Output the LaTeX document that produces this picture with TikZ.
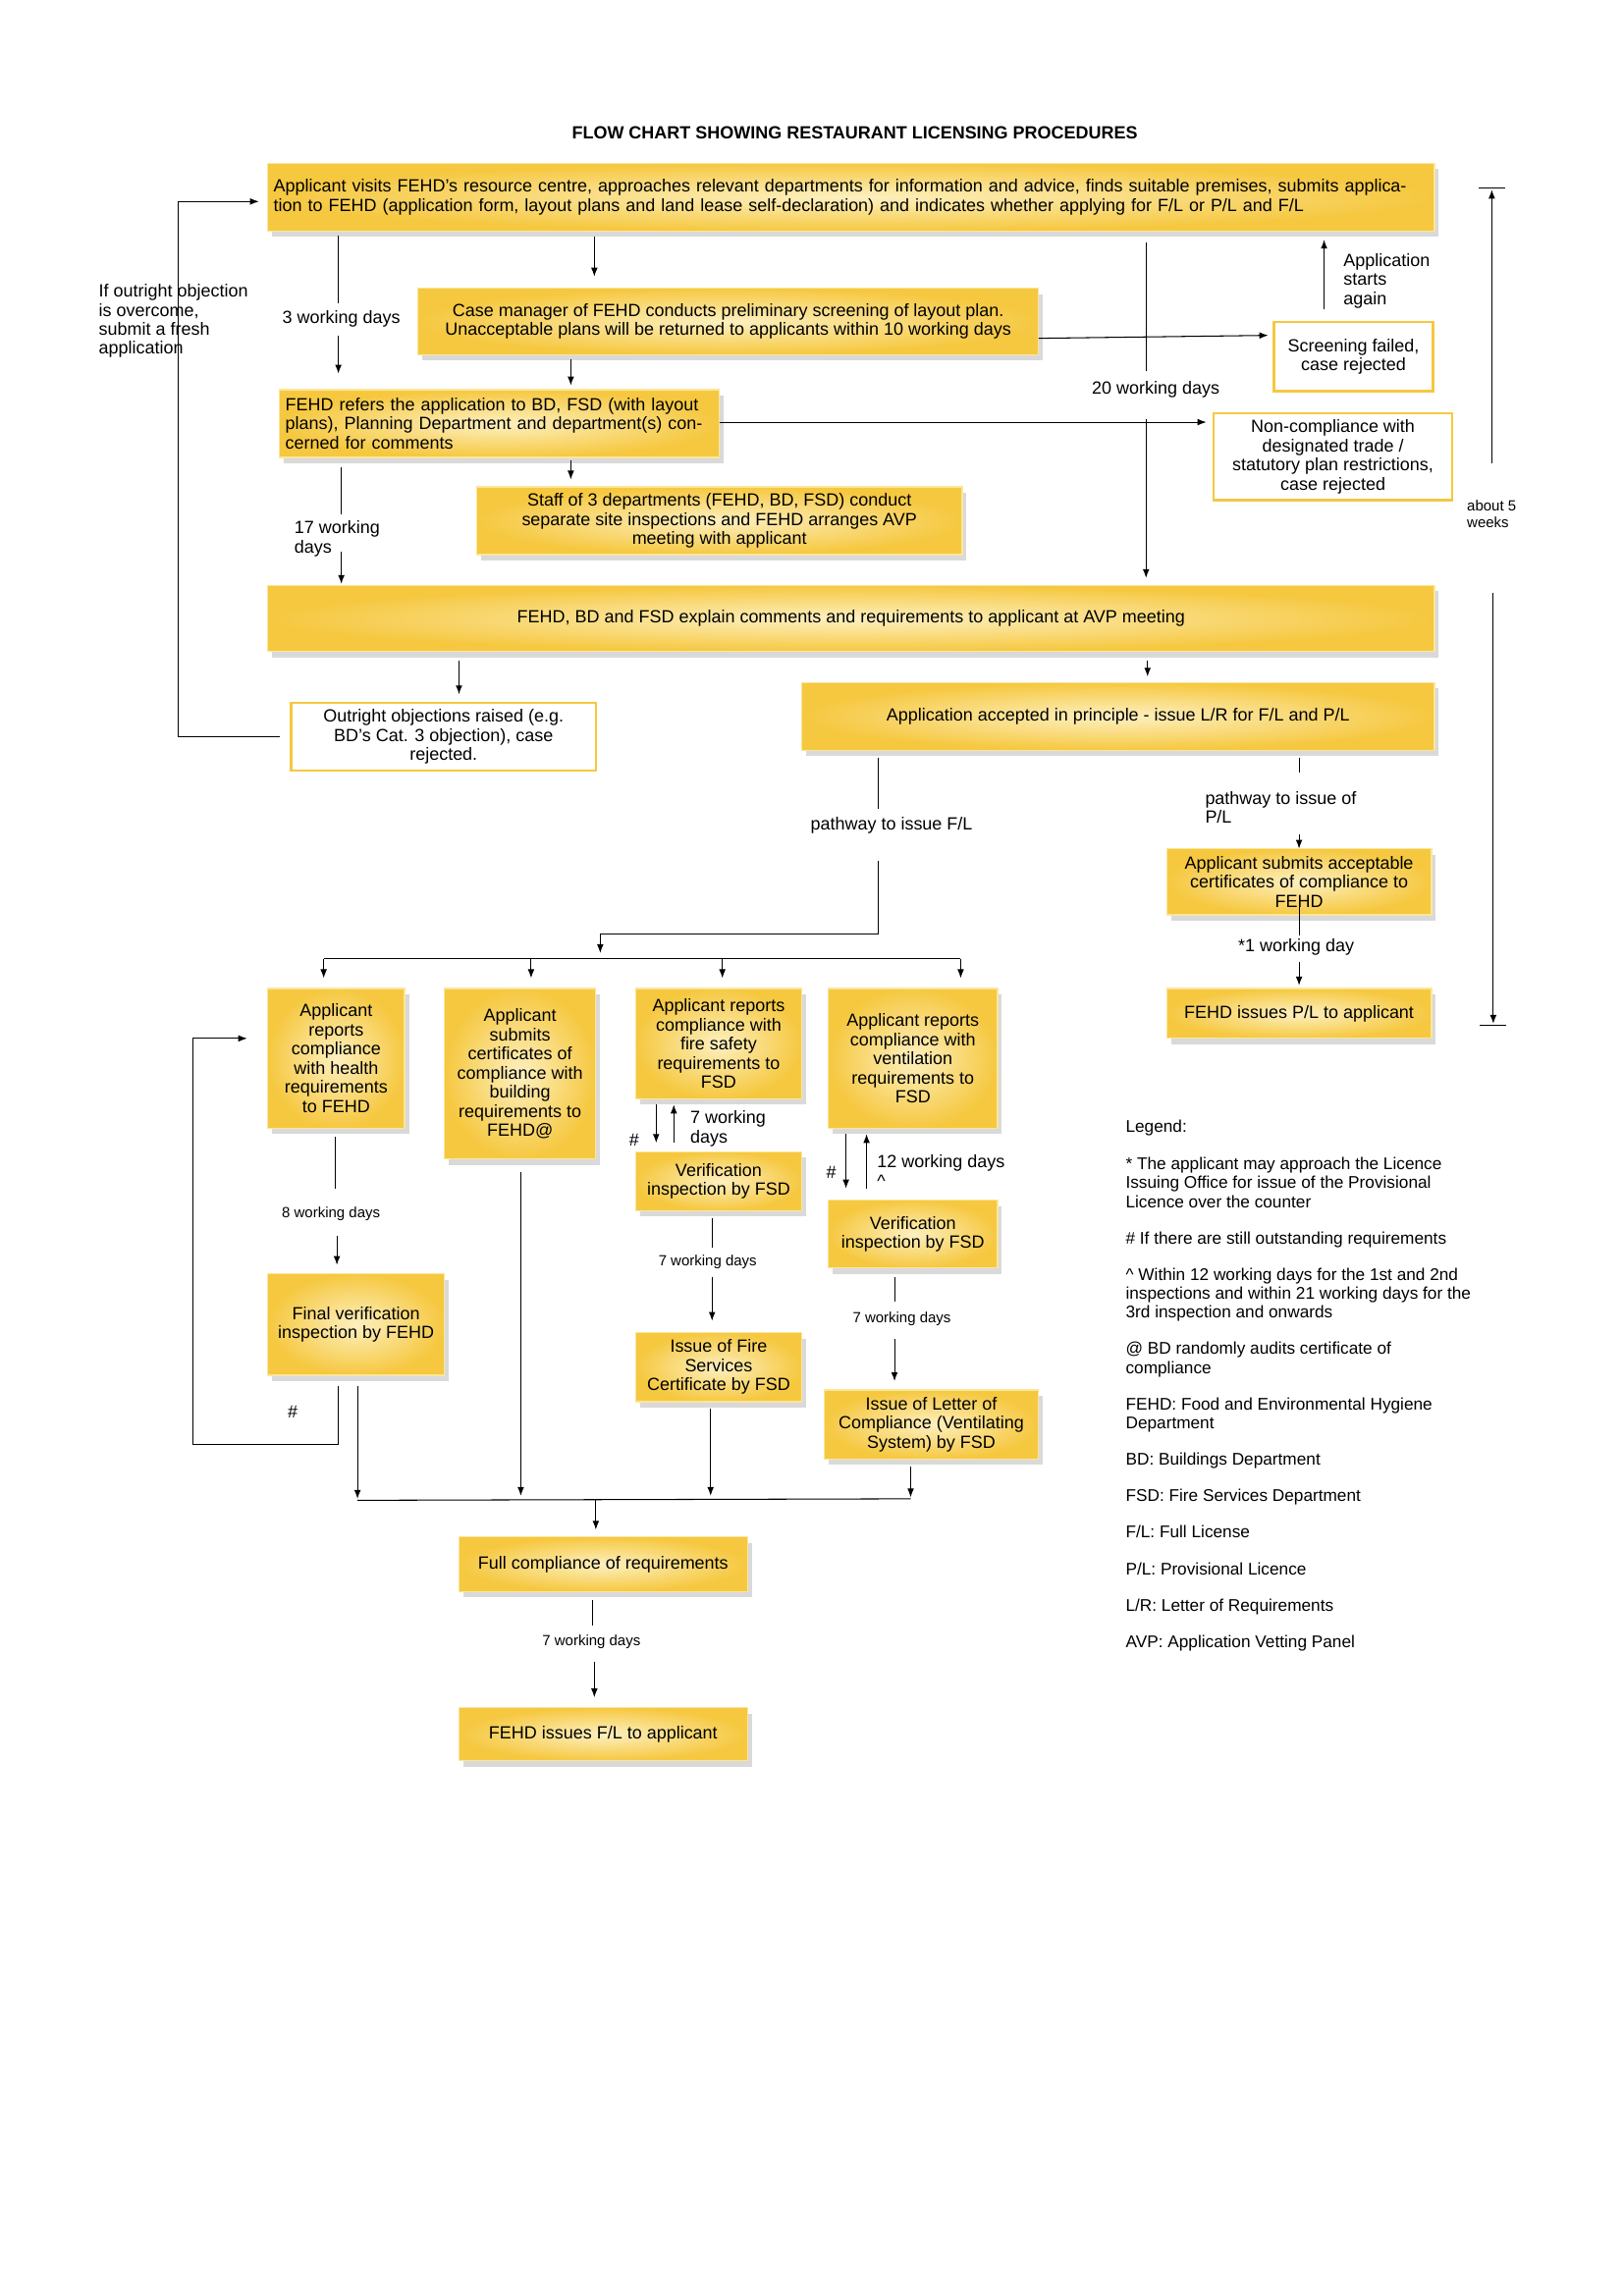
\documentclass[tikz,border=0pt]{standalone}
\usepackage{fontspec}
\setmainfont{Liberation Sans}
\usetikzlibrary{arrows.meta,shadows}
\definecolor{gold}{HTML}{F6C840}
\definecolor{lightg}{HTML}{FDF0C0}
\definecolor{bord}{HTML}{F9D55A}
\begin{document}
\begin{tikzpicture}[x=1pt,y=-1pt,
  box/.style={draw=bord!60!white,line width=0.8pt,inner color=lightg,outer color=gold,
    drop shadow={shadow xshift=3pt,shadow yshift=-4pt,opacity=0.25,fill=black!60},
    align=center,font=\fontsize{12}{13}\selectfont,inner sep=2pt},
  wbox/.style={draw=gold,line width=1.6pt,fill=white,align=center,font=\fontsize{12}{13}\selectfont,inner sep=2pt},
  lab/.style={font=\fontsize{12}{13}\selectfont,align=left,inner sep=0pt},
  slab/.style={font=\fontsize{10}{11}\selectfont,inner sep=0pt},
  ar/.style={-{Latex[length=6pt,width=4.5pt]},line width=0.7pt},
  ln/.style={line width=0.7pt}]
\useasboundingbox (0,0) rectangle (1103,1561);
\node[font=\bfseries\fontsize{12}{13}\selectfont] (title) at (581,90) {FLOW CHART SHOWING RESTAURANT LICENSING PROCEDURES};
% boxes
\node[box,minimum width=793,minimum height=46,text width=785,align=left] (b1) at (578.5,134) {Applicant visits FEHD's resource centre, approaches relevant departments for information and advice, finds suitable premises, submits application to FEHD (application form, layout plans and land lease self-declaration) and indicates whether applying for F/L or P/L and F/L};
\node[box,minimum width=422,minimum height=45] (b2) at (495,218.5) {Case manager of FEHD conducts preliminary screening of layout plan.\\Unacceptable plans will be returned to applicants within 10 working days};
\node[wbox,minimum width=108,minimum height=47] (sf) at (920,242.5) {Screening failed,\\case rejected};
\node[box,minimum width=299,minimum height=46,text width=291,align=left] (b3) at (339.5,288) {FEHD refers the application to BD, FSD (with layout plans), Planning Department and department(s) concerned for comments};
\node[wbox,minimum width=162,minimum height=59] (nc) at (906,310.5) {Non-compliance with\\designated trade /\\statutory plan restrictions,\\case rejected};
\node[box,minimum width=330,minimum height=46] (b4) at (489,354) {Staff of 3 departments (FEHD, BD, FSD) conduct\\separate site inspections and FEHD arranges AVP\\meeting with applicant};
\node[box,minimum width=793,minimum height=45] (avp) at (578.5,420.5) {FEHD, BD and FSD explain comments and requirements to applicant at AVP meeting};
\node[wbox,minimum width=207,minimum height=46] (oo) at (301.5,501) {Outright objections raised (e.g.\\BD's Cat. 3 objection), case\\rejected.};
\node[box,minimum width=430,minimum height=46] (acc) at (760,487) {Application accepted in principle - issue L/R for F/L and P/L};
\node[box,minimum width=180,minimum height=45] (pc) at (883,599.5) {Applicant submits acceptable\\certificates of compliance to\\FEHD};
\node[box,minimum width=180,minimum height=34] (pl) at (883,689) {FEHD issues P/L to applicant};
\node[box,minimum width=93,minimum height=95] (A) at (228.5,719.5) {Applicant\\reports\\compliance\\with health\\requirements\\to FEHD};
\node[box,minimum width=103,minimum height=116] (B) at (353.5,730) {Applicant\\submits\\certificates of\\compliance with\\building\\requirements to\\FEHD@};
\node[box,minimum width=113,minimum height=75] (C) at (488.5,709.5) {Applicant reports\\compliance with\\fire safety\\requirements to\\FSD};
\node[box,minimum width=115,minimum height=95] (D) at (620.5,719.5) {Applicant reports\\compliance with\\ventilation\\requirements to\\FSD};
\node[box,minimum width=113,minimum height=40] (C2) at (488.5,803) {Verification\\inspection by FSD};
\node[box,minimum width=115,minimum height=46] (D2) at (620.5,839) {Verification\\inspection by FSD};
\node[box,minimum width=120,minimum height=69] (A2) at (242,900.5) {Final verification\\inspection by FEHD};
\node[box,minimum width=113,minimum height=47] (C3) at (488.5,929.5) {Issue of Fire\\Services\\Certificate by FSD};
\node[box,minimum width=146,minimum height=47] (D3) at (633,968.5) {Issue of Letter of\\Compliance (Ventilating\\System) by FSD};
\node[box,minimum width=196,minimum height=37] (full) at (410,1063.5) {Full compliance of requirements};
\node[box,minimum width=196,minimum height=36] (fl) at (410,1179) {FEHD issues F/L to applicant};
% labels
\node[lab] (l3) at (232,217) {3 working days};
\node[lab,anchor=north west] (l20) at (742,259) {20 working days};
\node[lab,anchor=north west] (lstart) at (913,172) {Application\\starts\\again};
\node[lab,anchor=north west] (l17) at (200,354) {17 working\\days};
\node[lab,anchor=north west] (lout) at (67,193) {If outright objection\\is overcome,\\submit a fresh\\application};
\node[slab,align=left,anchor=north west] (l5w) at (997,340) {about 5\\weeks};
\node[lab] (lpf) at (606,561) {pathway to issue F/L};
\node[lab,anchor=north west] (lpp) at (819,538) {pathway to issue of\\P/L};
\node[lab] (l1w) at (881,644) {*1 working day};
\node[slab] (l8) at (225,825) {8 working days};
\node[lab] (h1) at (199,960) {\#};
\node[lab] (h2) at (431,775) {\#};
\node[lab,anchor=north west] (l7a) at (469,755) {7 working\\days};
\node[slab] (l7b) at (481,858) {7 working days};
\node[lab] (h3) at (565,797) {\#};
\node[lab,anchor=west] (l12) at (596,791) {12 working days};
\node[lab] (car) at (599,803) {\textasciicircum};
\node[slab] (l7c) at (613,897) {7 working days};
\node[slab] (l7d) at (402,1116) {7 working days};
% legend
\node[lab,anchor=north west,font=\fontsize{11.5}{12.8}\selectfont] (leg) at (765,761) {Legend:\\[13pt]
* The applicant may approach the Licence\\Issuing Office for issue of the Provisional\\Licence over the counter\\[12pt]
\# If there are still outstanding requirements\\[12pt]
\textasciicircum\ Within 12 working days for the 1st and 2nd\\inspections and within 21 working days for the\\3rd inspection and onwards\\[12pt]
@ BD randomly audits certificate of\\compliance\\[12pt]
FEHD: Food and Environmental Hygiene\\Department\\[12pt]
BD: Buildings Department\\[12pt]
FSD: Fire Services Department\\[12pt]
F/L: Full License\\[12pt]
P/L: Provisional Licence\\[12pt]
L/R: Letter of Requirements\\[12pt]
AVP: Application Vetting Panel};
% connectors top
\draw[ar] (404,161) -- (404,188);
\draw[ln] (230,160) -- (230,206);
\draw[ar] (230,228) -- (230,254);
\draw[ar] (388,244) -- (388,262);
\draw[ar] (706,230) -- (862,228);
\draw[ln] (779,165) -- (779,252);
\draw[ar] (779,285) -- (779,393);
\draw[ar] (900,210) -- (900,163);
\draw[ar] (489,287) -- (820,287);
\draw[ar] (388,313) -- (388,326);
\draw[ln] (232,318) -- (232,350);
\draw[ar] (232,375) -- (232,397);
% about 5 weeks
\draw[ar] (1014,315) -- (1014,129);
\draw[ln] (1005,128) -- (1023,128);
\draw[ar] (1015,403) -- (1015,696);
\draw[ln] (1006,697) -- (1024,697);
% loop back
\draw[ar] (190,501) -- (121,501) -- (121,137) -- (176,137);
% AVP down
\draw[ar] (312,449) -- (312,472);
\draw[ar] (780,449) -- (780,460);
% F/L pathway
\draw[ln] (597,515) -- (597,550);
\draw[ar] (597,585) -- (597,635) -- (408,635) -- (408,648);
\draw[ln] (220,652) -- (653,652);
\foreach \x in {220,361,491,653} \draw[ar] (\x,652) -- (\x,665);
% P/L pathway
\draw[ln] (883,515) -- (883,525);
\draw[ar] (883,567) -- (883,577);
\draw[ln] (883,615) -- (883,636);
\draw[ar] (883,654) -- (883,670);
% column A
\draw[ln] (228,773) -- (228,808);
\draw[ar] (229,840) -- (229,860);
\draw[ar] (230,942) -- (230,982) -- (131,982) -- (131,706) -- (168,706);
\draw[ar] (243,942) -- (243,1019);
% column B
\draw[ar] (354,797) -- (354,1017);
% column C
\draw[ar] (446,751) -- (446,777);
\draw[ar] (458,777) -- (458,751);
\draw[ln] (484,828) -- (484,848);
\draw[ar] (484,868) -- (484,898);
\draw[ar] (483,958) -- (483,1017);
% column D
\draw[ar] (575,771) -- (575,808);
\draw[ar] (589,808) -- (589,771);
\draw[ln] (608,868) -- (608,885);
\draw[ar] (608,910) -- (608,939);
\draw[ar] (619,997) -- (619,1018);
% merge
\draw[ln] (243,1020) -- (619,1019);
\draw[ar] (405,1020) -- (405,1040);
\draw[ln] (403,1088) -- (403,1105);
\draw[ar] (404,1130) -- (404,1154);
\end{tikzpicture}
\end{document}
